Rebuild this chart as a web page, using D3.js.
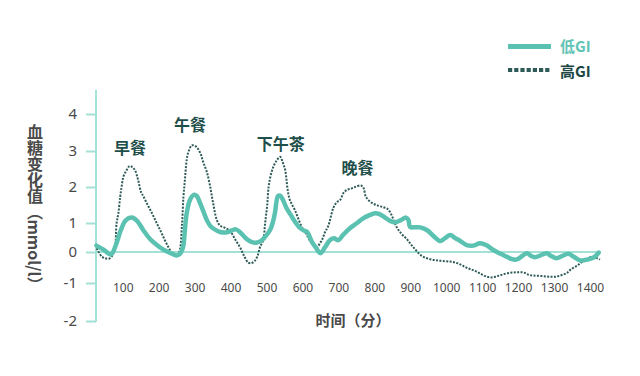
<!DOCTYPE html>
<html>
<head>
<meta charset="utf-8">
<script src="https://cdn.jsdelivr.net/npm/d3@7"></script>
<style>
  body { margin: 0; background: #fff; }
  svg { display: block; font-family: "Noto Sans CJK SC", "Noto Sans", sans-serif; }
</style>
</head>
<body>
<svg id="chart" width="640" height="376"></svg>
<script>
    // 低GI
    var lowTime = [27, 48, 67, 81, 95, 109, 125, 140, 157, 176, 195, 212, 232, 250, 259, 268, 273, 278, 287, 298,
        306, 315, 325, 334, 343, 352, 371, 390, 407, 415, 426, 438, 449, 462, 474, 485, 496, 510, 518, 524,
        532, 538, 546, 556, 568, 579, 593, 604, 613, 626, 638, 650, 663, 677, 688, 700, 713, 732, 751, 769,
        785, 802, 816, 830, 844, 858, 874, 888, 895, 899, 913, 927, 946, 963, 983, 997, 1011, 1025, 1039, 1057,
        1075, 1094, 1111, 1131, 1150, 1168, 1183, 1197, 1211, 1225, 1236, 1247, 1264, 1280, 1292, 1307, 1322, 1340, 1356, 1372,
        1386, 1400, 1414, 1424];
    var lowValue = [0.22, 0.07, -0.08, 0.24, 0.76, 1.08, 1.15, 1.06, 0.76, 0.45, 0.24, 0.09, -0.03, -0.11, -0.06, 0.18, 0.76, 1.27, 1.64, 1.78,
        1.75, 1.56, 1.31, 1.08, 0.91, 0.81, 0.69, 0.68, 0.76, 0.78, 0.69, 0.53, 0.41, 0.33, 0.33, 0.38, 0.52, 0.76, 1.03, 1.31,
        1.75, 1.76, 1.64, 1.41, 1.22, 1.04, 0.83, 0.74, 0.69, 0.36, 0.14, -0.04, 0.17, 0.41, 0.47, 0.41, 0.59, 0.82, 0.99, 1.13,
        1.21, 1.27, 1.24, 1.15, 1.06, 1.02, 1.08, 1.15, 1.08, 0.87, 0.85, 0.85, 0.76, 0.57, 0.38, 0.48, 0.59, 0.48, 0.38, 0.24,
        0.22, 0.30, 0.24, 0.07, -0.05, -0.15, -0.23, -0.24, -0.13, -0.04, -0.13, -0.17, -0.10, -0.04, -0.13, -0.20, -0.13, -0.06, -0.16, -0.27,
        -0.26, -0.22, -0.15, -0.02];

    // 高GI
    var highTime = [28, 42, 54, 65, 74, 79, 83, 88, 93, 97, 102, 111, 119, 126, 134, 143, 151, 157, 169, 181,
        193, 204, 215, 227, 237, 246, 254, 259, 265, 269, 273, 278, 283, 292, 301, 310, 318, 324, 334, 343,
        351, 362, 371, 385, 399, 412, 426, 438, 449, 458, 467, 475, 482, 491, 496, 502, 506, 511, 519, 528,
        538, 545, 552, 559, 565, 579, 598, 610, 624, 640, 654, 663, 672, 686, 696, 705, 714, 724, 737, 749,
        763, 770, 777, 793, 808, 825, 837, 848, 862, 876, 890, 902, 913, 927, 941, 958, 974, 991, 1011, 1025,
        1039, 1052, 1066, 1080, 1094, 1111, 1125, 1139, 1153, 1168, 1186, 1200, 1215, 1228, 1242, 1261, 1280, 1294, 1308, 1322,
        1335, 1347, 1363, 1378, 1392, 1403, 1414, 1428];
    var highValue = [0.13, -0.15, -0.21, -0.20, -0.04, 0.18, 0.99, 1.27, 1.73, 2.01, 2.29, 2.47, 2.58, 2.56, 2.47, 2.19, 1.86, 1.75, 1.51, 1.28,
        1.03, 0.76, 0.47, 0.17, -0.03, -0.10, -0.06, 0.07, 0.94, 1.73, 2.19, 2.75, 2.98, 3.15, 3.14, 3.05, 2.89, 2.69, 2.42, 2.03,
        1.58, 1.08, 0.91, 0.83, 0.72, 0.45, 0.17, -0.13, -0.34, -0.36, -0.29, -0.13, 0.17, 0.41, 0.97, 1.50, 2.01, 2.29, 2.56, 2.73,
        2.84, 2.69, 2.47, 1.92, 1.64, 1.36, 0.87, 0.64, 0.34, 0.19, 0.41, 0.69, 0.90, 1.42, 1.58, 1.64, 1.83, 1.92, 1.96, 2.01,
        2.04, 1.97, 1.72, 1.56, 1.49, 1.44, 1.39, 1.22, 0.86, 0.62, 0.45, 0.26, 0.10, -0.08, -0.18, -0.24, -0.27, -0.29, -0.31, -0.34,
        -0.40, -0.48, -0.55, -0.61, -0.69, -0.79, -0.82, -0.79, -0.74, -0.69, -0.66, -0.65, -0.66, -0.73, -0.76, -0.77, -0.79, -0.80, -0.79, -0.74,
        -0.68, -0.56, -0.45, -0.32, -0.23, -0.16, -0.18, -0.24];

    var xTicks = [100, 200, 300, 400, 500, 600, 700, 800, 900, 1000, 1100, 1200, 1300, 1400];
    var yTicks = [-2, -1, 0, 1, 2, 3, 4];

    var mealNames = ["早餐", "午餐", "下午茶", "晚餐"];
    var mealTimes = [120, 287, 540, 753];
    var mealLevels = [3.12, 3.72, 3.22, 2.56];

    var seriesNames = ["低GI", "高GI"];

    var lowColor = "#5bc2b1";
    var highColor = "#2e5b57";
    var axisColor = "#a3e1d7";
    var textColor = "#4a4a4a";

    var svg = d3.select("#chart");
    var axisX = 96;

    var x = d3.scaleLinear().domain([100, 1400]).range([122.7, 590]);
    // the source chart spaces its gridlines unevenly, so the scale is piecewise
    var y = d3.scaleLinear().domain(yTicks).range([321, 283, 252, 223, 187, 151, 114]);

    function toPoints(ts, vs) {
        return ts.map(function (t, i) { return [t, vs[i]]; });
    }

    // y axis
    svg.append("line")
        .attr("x1", axisX).attr("x2", axisX)
        .attr("y1", 90).attr("y2", 322)
        .attr("stroke", axisColor).attr("stroke-width", 2);

    var yAxis = svg.append("g")
        .attr("transform", "translate(" + axisX + ",0)")
        .call(d3.axisLeft(y).tickValues(yTicks).tickFormat(function (d) { return String(d); })
            .tickSize(10).tickPadding(9));
    yAxis.select(".domain").remove();
    yAxis.selectAll(".tick line").attr("stroke", axisColor).attr("stroke-width", 2);
    yAxis.selectAll(".tick text")
        .attr("fill", textColor)
        .style("font-size", "15px")
        .style("font-family", "'Noto Sans', sans-serif");

    // zero line
    svg.append("line")
        .attr("x1", axisX).attr("x2", x(1430))
        .attr("y1", y(0)).attr("y2", y(0))
        .attr("stroke", axisColor).attr("stroke-width", 2);

    // x axis labels only
    var xAxis = svg.append("g")
        .attr("transform", "translate(0,288)")
        .call(d3.axisBottom(x).tickValues(xTicks).tickFormat(d3.format("d")).tickSize(0).tickPadding(0));
    xAxis.select(".domain").remove();
    xAxis.selectAll(".tick text")
        .attr("y", 0).attr("dy", "0.35em")
        .attr("fill", textColor)
        .style("font-size", "12px")
        .style("font-family", "'Noto Sans', sans-serif");

    var line = d3.line()
        .x(function (d) { return x(d[0]); })
        .y(function (d) { return y(d[1]); })
        .curve(d3.curveCatmullRom.alpha(0.5));

    svg.append("path")
        .datum(toPoints(highTime, highValue))
        .attr("d", line)
        .attr("fill", "none")
        .attr("stroke", highColor)
        .attr("stroke-width", 2)
        .attr("stroke-dasharray", "2,1.4");

    svg.append("path")
        .datum(toPoints(lowTime, lowValue))
        .attr("d", line)
        .attr("fill", "none")
        .attr("stroke", lowColor)
        .attr("stroke-width", 4.5)
        .attr("stroke-linejoin", "round")
        .attr("stroke-linecap", "round");

    // meal labels
    svg.append("g").selectAll("text")
        .data(mealNames)
        .enter().append("text")
        .attr("x", function (d, i) { return x(mealTimes[i]); })
        .attr("y", function (d, i) { return y(mealLevels[i]); })
        .attr("text-anchor", "middle")
        .attr("dominant-baseline", "central")
        .attr("fill", "#1f4f4b")
        .style("font-size", "16px")
        .style("font-weight", "bold")
        .text(function (d) { return d; });

    // axis titles
    svg.append("text")
        .attr("x", 35).attr("y", 208)
        .attr("text-anchor", "middle")
        .style("writing-mode", "vertical-rl")
        .attr("fill", textColor)
        .style("font-size", "16px")
        .style("font-weight", "bold")
        .text("血糖变化值（mmol/l）");

    svg.append("text")
        .attr("x", 353).attr("y", 319)
        .attr("text-anchor", "middle")
        .attr("dominant-baseline", "central")
        .attr("fill", textColor)
        .style("font-size", "15px")
        .style("font-weight", "bold")
        .text("时间（分）");

    // legend
    var legend = svg.append("g");
    legend.append("line")
        .attr("x1", 508).attr("x2", 551).attr("y1", 46.5).attr("y2", 46.5)
        .attr("stroke", lowColor).attr("stroke-width", 5);
    legend.append("line")
        .attr("x1", 508).attr("x2", 551).attr("y1", 70).attr("y2", 70)
        .attr("stroke", highColor).attr("stroke-width", 4)
        .attr("stroke-dasharray", "4.2,2");
    legend.selectAll("text")
        .data(seriesNames)
        .enter().append("text")
        .attr("x", 560)
        .attr("y", function (d, i) { return i === 0 ? 45 : 70; })
        .attr("dominant-baseline", "central")
        .attr("fill", function (d, i) { return i === 0 ? "#62c3b5" : "#1d4744"; })
        .style("font-size", "15px")
        .style("font-weight", "bold")
        .text(function (d) { return d; });
</script>
</body>
</html>
